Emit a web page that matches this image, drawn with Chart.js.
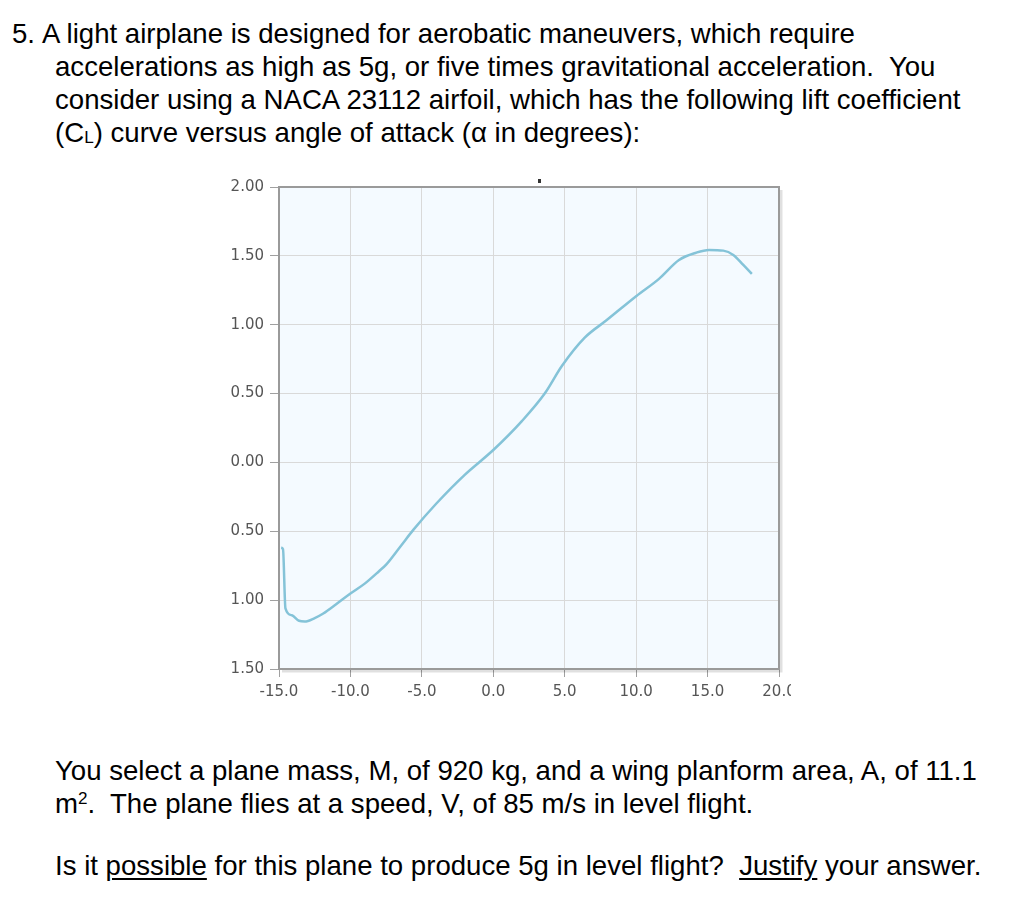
<!DOCTYPE html>
<html>
<head>
<meta charset="utf-8">
<script src="https://cdn.jsdelivr.net/npm/chart.js@4.4.1/dist/chart.umd.min.js"></script>
<style>
  html, body { margin: 0; padding: 0; background: #fff; }
  body { width: 1024px; height: 912px; position: relative; overflow: hidden;
         font-family: "Liberation Sans", Arial, Helvetica, sans-serif; color: #000; }
  .ln { position: absolute; font-size: 27.6px; line-height: 27.6px; white-space: pre; }
  .ln sub { font-size: 0.62em; vertical-align: -0.05em; line-height: 0; }
  .ln sup { font-size: 0.62em; vertical-align: 0.55em; line-height: 0; }
  .ln u { text-underline-offset: 3px; text-decoration-thickness: 1.5px; }
  #wrap { position: absolute; left: 200px; top: 170px; width: 591px; height: 540px; overflow: hidden; }
  #dot { position: absolute; left: 538px; top: 179px; width: 3px; height: 4px; background: #333; }
</style>
</head>
<body>
<div class="ln" style="left:12px;top:19.6px">5.</div>
<div class="ln" style="left:42px;top:19.6px">A light airplane is designed for aerobatic maneuvers, which require</div>
<div class="ln" style="left:55px;top:52.6px">accelerations as high as 5g, or five times gravitational acceleration.  You</div>
<div class="ln" style="left:55px;top:85.6px">consider using a NACA 23112 airfoil, which has the following lift coefficient</div>
<div class="ln" style="left:55px;top:118.6px">(C<sub>L</sub>) curve versus angle of attack (α in degrees):</div>

<div id="dot"></div>
<div id="wrap"><canvas id="chart" width="620" height="540"></canvas></div>

<div class="ln" style="left:55px;top:756.6px">You select a plane mass, M, of 920 kg, and a wing planform area, A, of 11.1</div>
<div class="ln" style="left:55px;top:789.6px">m<sup>2</sup>.  The plane flies at a speed, V, of 85 m/s in level flight.</div>
<div class="ln" style="left:55px;top:851.6px">Is it <u>possible</u> for this plane to produce 5g in level flight?  <u>Justify</u> your answer.</div>

<script>
// angle of attack (deg) and lift coefficient
const alpha = [-14.85, -14.72, -14.55, -14.1, -13.6, -13.2, -12.5, -11.9, -11.0, -10.0,
               -9.0, -8.0, -7.5, -6.5, -5.6, -4.0, -2.0, 0.0, 2.0,
               3.6, 4.8, 6.4, 7.9, 10.0, 11.6, 13.0, 14.2, 15.1, 16.1,
               16.8, 17.5, 18.1];
const liftCoef = [-0.62, -0.63, -1.06, -1.11, -1.15, -1.155, -1.13, -1.097, -1.03, -0.952,
                  -0.88, -0.79, -0.742, -0.61, -0.49, -0.30, -0.09, 0.09, 0.30,
                  0.50, 0.70, 0.906, 1.03, 1.207, 1.333, 1.47, 1.523, 1.543, 1.538,
                  1.507, 1.434, 1.369];

const xTickLabels = ["-15.0", "-10.0", "-5.0", "0.0", "5.0", "10.0", "15.0", "20.0"];
// labels as printed in the figure (bottom to top)
const yTickLabels = ["1.50", "1.00", "0.50", "0.00", "0.50", "1.00", "1.50", "2.00"];

const plotFrame = {
  id: "plotFrame",
  beforeDraw(chart) {
    const a = chart.chartArea, ctx = chart.ctx;
    ctx.save();
    ctx.fillStyle = "#f4faff";
    ctx.fillRect(a.left, a.top, a.right - a.left, a.bottom - a.top);
    ctx.restore();
  },
  afterDraw(chart) {
    const a = chart.chartArea, ctx = chart.ctx;
    ctx.save();
    // soft shadow right / bottom
    ctx.strokeStyle = "rgba(0,0,0,0.12)";
    ctx.lineWidth = 3;
    ctx.beginPath();
    ctx.moveTo(a.right + 2, a.top + 3);
    ctx.lineTo(a.right + 2, a.bottom + 2);
    ctx.lineTo(a.left + 3, a.bottom + 2);
    ctx.stroke();
    ctx.strokeStyle = "#9a9a9a";
    ctx.lineWidth = 2;
    ctx.strokeRect(a.left, a.top, a.right - a.left, a.bottom - a.top);
    ctx.restore();
  }
};

const tickFont = { family: "'DejaVu Sans', Verdana, sans-serif", size: 15 };

new Chart(document.getElementById("chart"), {
  type: "line",
  data: {
    datasets: [{
      data: alpha.map((a, i) => ({ x: a, y: liftCoef[i] })),
      borderColor: "#84c3d8",
      borderWidth: 2.5,
      pointRadius: 0,
      fill: false,
      cubicInterpolationMode: "monotone"
    }]
  },
  options: {
    responsive: false,
    animation: false,
    layout: { padding: { top: 17, right: 41, bottom: 1, left: 0 } },
    plugins: { legend: { display: false }, tooltip: { enabled: false } },
    scales: {
      x: {
        type: "linear",
        min: -15, max: 20,
        afterFit(scale) { scale.height = 40; },
        ticks: {
          stepSize: 5, padding: 6, color: "#555", font: tickFont, maxRotation: 0,
          callback: (v, i) => xTickLabels[i]
        },
        grid: { color: "#d9d9d9", tickColor: "#a0a0a0", tickLength: 8, lineWidth: 1 },
        border: { display: false }
      },
      y: {
        min: -1.5, max: 2.0,
        afterFit(scale) { scale.width = 79; },
        ticks: {
          stepSize: 0.5, padding: 6, color: "#555", font: tickFont,
          callback: (v, i) => yTickLabels[i]
        },
        grid: { color: "#d9d9d9", tickColor: "#a0a0a0", tickLength: 9, lineWidth: 1 },
        border: { display: false }
      }
    }
  },
  plugins: [plotFrame]
});
</script>
</body>
</html>
